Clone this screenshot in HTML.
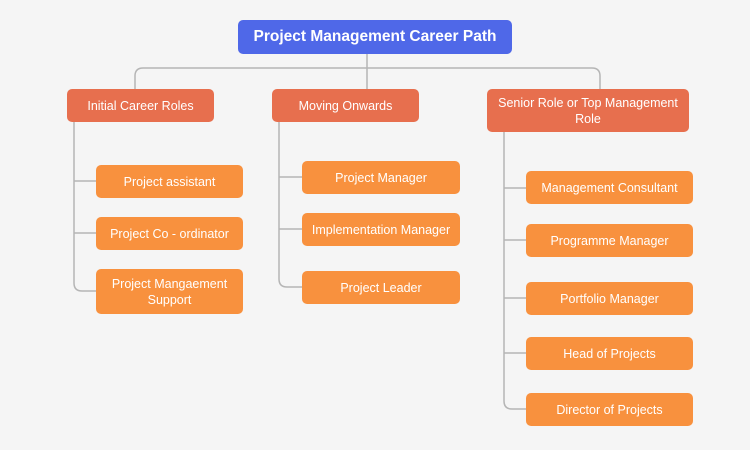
<!DOCTYPE html>
<html><head><style>
body{margin:0;width:750px;height:450px;background:#f5f5f5;position:relative;overflow:hidden;font-family:"Liberation Sans",sans-serif;}
.b{position:absolute;display:flex;align-items:center;justify-content:center;text-align:center;color:#fff;border-radius:5px;font-size:12.5px;line-height:16px;box-sizing:border-box;}
.t{background:#4f68e8;font-weight:bold;font-size:15.5px;}
.r{background:#e76f4e;}
.o{background:#f8913e;}
</style></head><body>
<svg width="750" height="450" style="position:absolute;left:0;top:0" fill="none" stroke="#b5b5b5" stroke-width="1.5">
<path d="M367 54 V89"/>
<path d="M135 89 V76 Q135 68 143 68 H592 Q600 68 600 76 V89"/>
<path d="M74 121 V283 Q74 291 82 291 H96 M74 181 H96 M74 233 H96"/>
<path d="M279 121 V279 Q279 287 287 287 H302 M279 177 H302 M279 229 H302"/>
<path d="M504 131 V401 Q504 409 512 409 H526 M504 188 H526 M504 240 H526 M504 298 H526 M504 353 H526"/>
</svg>
<div class="b t" style="left:238px;top:20px;width:274px;height:34px">Project Management Career Path</div>
<div class="b r" style="left:67px;top:89px;width:147px;height:33px">Initial Career Roles</div>
<div class="b r" style="left:272px;top:89px;width:147px;height:33px">Moving Onwards</div>
<div class="b r" style="left:487px;top:89px;width:202px;height:43px">Senior Role or Top Management<br>Role</div>
<div class="b o" style="left:96px;top:165px;width:147px;height:33px">Project assistant</div>
<div class="b o" style="left:96px;top:217px;width:147px;height:33px">Project Co - ordinator</div>
<div class="b o" style="left:96px;top:269px;width:147px;height:45px">Project Mangaement<br>Support</div>
<div class="b o" style="left:302px;top:161px;width:158px;height:33px">Project Manager</div>
<div class="b o" style="left:302px;top:213px;width:158px;height:33px">Implementation Manager</div>
<div class="b o" style="left:302px;top:271px;width:158px;height:33px">Project Leader</div>
<div class="b o" style="left:526px;top:171px;width:167px;height:33px">Management Consultant</div>
<div class="b o" style="left:526px;top:224px;width:167px;height:33px">Programme Manager</div>
<div class="b o" style="left:526px;top:282px;width:167px;height:33px">Portfolio Manager</div>
<div class="b o" style="left:526px;top:337px;width:167px;height:33px">Head of Projects</div>
<div class="b o" style="left:526px;top:393px;width:167px;height:33px">Director of Projects</div>
</body></html>
